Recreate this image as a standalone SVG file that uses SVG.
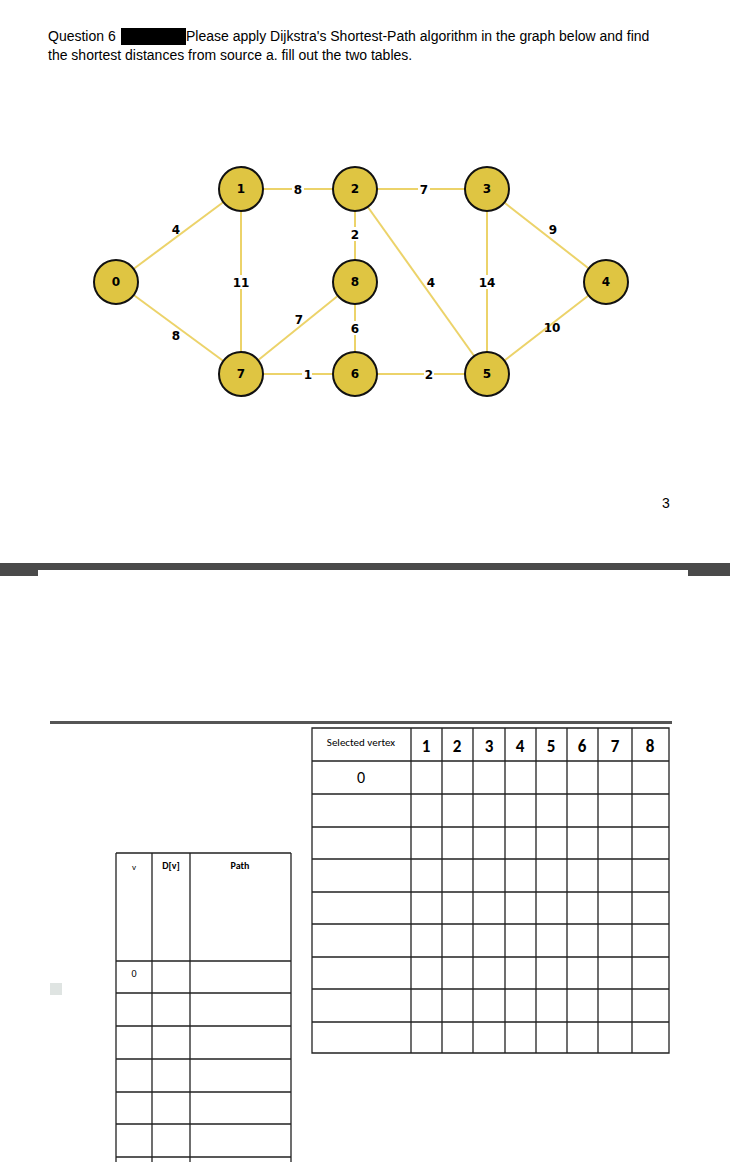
<svg xmlns="http://www.w3.org/2000/svg" width="730" height="1162" viewBox="0 0 730 1162">
<style>
.t{font-family:"Liberation Sans",Arial,sans-serif;font-size:14px;fill:#000}
.e{stroke:#ecd36a;stroke-width:2;fill:none}
.n circle{fill:#dfc542;stroke:#111;stroke-width:2}
.n text,.w{font-family:"DejaVu Sans",sans-serif;font-weight:bold;font-size:12px;text-anchor:middle;fill:#000}
.w{font-weight:bold}
.wb{fill:#fff}
.g{stroke:#222;stroke-width:1.3;fill:none}
.c{font-family:Carlito,"Liberation Sans",sans-serif;fill:#000;text-anchor:middle}
</style>
<rect width="730" height="1162" fill="#fff"/>
<text class="t" x="48" y="41">Question 6</text>
<rect x="121" y="28" width="65" height="17" fill="#000"/>
<text class="t" x="186" y="41">Please apply Dijkstra's Shortest-Path algorithm in the graph below and find</text>
<text class="t" x="48" y="60">the shortest distances from source a. fill out the two tables.</text>
<g id="edges">
<line class="e" x1="116" y1="282" x2="241" y2="189"/>
<line class="e" x1="116" y1="282" x2="241" y2="374"/>
<line class="e" x1="241" y1="189" x2="355" y2="189"/>
<line class="e" x1="355" y1="189" x2="487" y2="189"/>
<line class="e" x1="241" y1="189" x2="241" y2="374"/>
<line class="e" x1="355" y1="189" x2="355" y2="282"/>
<line class="e" x1="355" y1="189" x2="487" y2="374"/>
<line class="e" x1="487" y1="189" x2="487" y2="374"/>
<line class="e" x1="487" y1="189" x2="606" y2="282"/>
<line class="e" x1="606" y1="282" x2="487" y2="374"/>
<line class="e" x1="355" y1="282" x2="241" y2="374"/>
<line class="e" x1="355" y1="282" x2="355" y2="374"/>
<line class="e" x1="241" y1="374" x2="355" y2="374"/>
<line class="e" x1="355" y1="374" x2="487" y2="374"/>
<g class="wl">
<rect class="wb" x="292" y="182" width="12" height="14"/><text class="w" x="298" y="194">8</text>
<rect class="wb" x="418" y="182" width="12" height="14"/><text class="w" x="424" y="194">7</text>
<rect class="wb" x="350" y="227" width="10" height="14"/><text class="w" x="355" y="239">2</text>
<text class="w" x="176" y="234">4</text>
<text class="w" x="176" y="340">8</text>
<rect class="wb" x="230" y="275" width="22" height="14"/><text class="w" x="241" y="287">11</text>
<text class="w" x="431" y="287">4</text>
<rect class="wb" x="477" y="275" width="20" height="14"/><text class="w" x="487" y="287">14</text>
<text class="w" x="553" y="234">9</text>
<text class="w" x="552" y="332">10</text>
<text class="w" x="299" y="324">7</text>
<rect class="wb" x="350" y="321" width="10" height="14"/><text class="w" x="355" y="333">6</text>
<rect class="wb" x="302" y="367" width="10" height="14"/><text class="w" x="308" y="379">1</text>
<rect class="wb" x="424" y="367" width="10" height="14"/><text class="w" x="429" y="379">2</text>
</g>
</g>
<g id="n0" class="n"><circle cx="116" cy="282" r="22"/><text x="116" y="286">0</text></g>
<g id="n1" class="n"><circle cx="241" cy="189" r="22"/><text x="241" y="193">1</text></g>
<g id="n2" class="n"><circle cx="355" cy="189" r="22"/><text x="355" y="193">2</text></g>
<g id="n3" class="n"><circle cx="487" cy="189" r="22"/><text x="487" y="193">3</text></g>
<g id="n4" class="n"><circle cx="606" cy="282" r="22"/><text x="606" y="286">4</text></g>
<g id="n8" class="n"><circle cx="355" cy="282" r="22"/><text x="355" y="286">8</text></g>
<g id="n7" class="n"><circle cx="241" cy="374" r="22"/><text x="241" y="378">7</text></g>
<g id="n6" class="n"><circle cx="355" cy="374" r="22"/><text x="355" y="378">6</text></g>
<g id="n5" class="n"><circle cx="487" cy="374" r="22"/><text x="487" y="378">5</text></g>
<text class="t" x="662" y="508" font-size="12">3</text>
<rect x="0" y="563" width="730" height="13" fill="#4a4a4a"/>
<rect x="38" y="570" width="650" height="7" fill="#fff"/>
<rect x="50" y="721" width="622" height="3" fill="#555"/>
<g id="table2">
<path class="g" d="M312 728V1053H669V728ZM411 728V1053M442 728V1053M473 728V1053M505 728V1053M536 728V1053M567 728V1053M598 728V1053M632 728V1053M312 761H669M312 794H669M312 827H669M312 859H669M312 892H669M312 924H669M312 957H669M312 989H669M312 1022H669"/>
<text class="c" x="361" y="746" font-size="11">Selected vertex</text>
<g font-size="17" font-weight="bold">
<text class="c" x="426" y="752">1</text><text class="c" x="457" y="752">2</text><text class="c" x="489" y="752">3</text><text class="c" x="520" y="752">4</text><text class="c" x="551" y="752">5</text><text class="c" x="582" y="752">6</text><text class="c" x="615" y="752">7</text><text class="c" x="650" y="752">8</text>
</g>
<text class="c" x="361" y="783" font-size="16">0</text>
</g>
<g id="table1">
<path class="g" d="M116 853V1162M152 853V1162M190 853V1162M291 853V1162M116 853H291M116 961H291M116 993H291M116 1026H291M116 1059H291M116 1092H291M116 1124H291M116 1157H291"/>
<text class="c" x="134" y="870" font-size="9" fill="#444">v</text>
<text class="c" x="171" y="869" font-size="10" font-weight="bold">D[v]</text>
<text class="c" x="240" y="869" font-size="10" font-weight="bold">Path</text>
<text class="c" x="134" y="977" font-size="10">0</text>
</g>
<rect x="50" y="983" width="12" height="12" fill="#dfe4e2"/>
</svg>
